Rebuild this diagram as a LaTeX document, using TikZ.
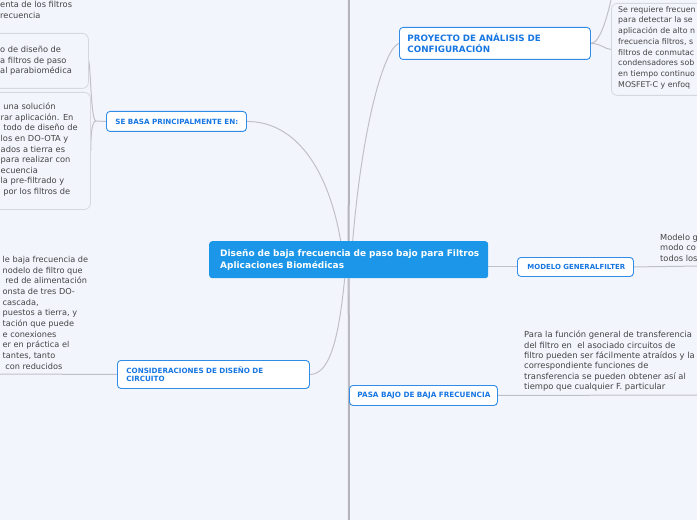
\documentclass[tikz,border=0pt]{standalone}
\usepackage{fontspec}
\setmainfont{DejaVu Sans}
\usetikzlibrary{backgrounds}
\definecolor{bg}{RGB}{243,245,253}
\definecolor{tblue}{RGB}{22,118,226}
\definecolor{bblue}{RGB}{48,140,230}
\definecolor{cfill}{RGB}{28,150,232}
\definecolor{lgray}{RGB}{192,192,200}
\definecolor{trunkgray}{RGB}{180,180,186}
\definecolor{boxgray}{RGB}{214,216,224}
\definecolor{txt}{RGB}{68,68,68}
\begin{document}
\begin{tikzpicture}[x=1bp,y=-1bp,
 topic/.style={draw=bblue, fill=white, line width=0.9bp, rounded corners=3.5bp, text=tblue, font=\fontsize{7.2}{8.3}\selectfont\bfseries, align=left, anchor=north west, inner ysep=0pt},
 central/.style={fill=cfill, rounded corners=3bp, text=white, font=\fontsize{9}{11.6}\selectfont\bfseries, align=left, anchor=north west, inner ysep=0pt},
 body/.style={text=txt, font=\fontsize{8.3}{10.6}\selectfont, align=left, anchor=north west, inner sep=0pt},
 tbox/.style={draw=boxgray, line width=0.8bp, rounded corners=6bp, anchor=north west, inner sep=0pt},
 conn/.style={draw=lgray, line width=1bp},
 trunk/.style={draw=trunkgray, line width=2bp}
]
\useasboundingbox (0,0) rectangle (697,520);
\clip (0,0) rectangle (697,520);

% text boxes
\node[tbox, minimum width=108bp, minimum height=55bp] (box1) at (-20,33) {};
\node[tbox, minimum width=110bp, minimum height=117bp] (box2) at (-20,92) {};
\node[tbox, minimum width=100bp, minimum height=92bp] (rbox) at (611,3) {};

% topics
\node[central, minimum width=279bp, minimum height=37bp, inner xsep=11bp, text width=257bp] (center) at (209,241)
 {\mbox{Diseño de baja frecuencia de paso bajo para Filtros}\\\mbox{Aplicaciones Biomédicas}};
\node[topic, minimum width=140bp, minimum height=20bp, inner xsep=9bp, text width=122bp] (sebasa) at (106,111)
 {\mbox{SE BASA PRINCIPALMENTE EN:}};
\node[topic, minimum width=191bp, minimum height=32bp, inner xsep=8bp, text width=175bp, font=\fontsize{8.8}{11}\selectfont\bfseries] (proy) at (399,27)
 {\mbox{PROYECTO DE ANÁLISIS DE}\\\mbox{CONFIGURACIÓN}};
\node[topic, minimum width=116bp, minimum height=19bp, inner xsep=10bp, text width=96bp, font=\fontsize{7}{8.3}\selectfont\bfseries] (modelo) at (517,257)
 {\mbox{MODELO GENERALFILTER}};
\node[topic, minimum width=192bp, minimum height=28bp, inner xsep=9bp, text width=174bp] (cons) at (117,360)
 {\mbox{CONSIDERACIONES DE DISEÑO DE}\\\mbox{CIRCUITO}};
\node[topic, minimum width=148bp, minimum height=20bp, inner xsep=8bp, text width=132bp, font=\fontsize{7.3}{8.3}\selectfont\bfseries] (pasa) at (349,385)
 {\mbox{PASA BAJO DE BAJA FRECUENCIA}};

% body texts
\node[body] (t0) at (0,1) {enta de los filtros\\recuencia};
\node[body] (t1) at (0,46) {o de diseño de\\a filtros de paso\\al parabiomédica};
\node[body] (t2) at (0.5,103) {\ una solución\\rar aplicación. En\\\ todo de diseño de\\los en DO-OTA y\\ados a tierra es\\para realizar con\\ecuencia\\la pre-filtrado y\\\ por los filtros de};
\node[body, font=\fontsize{8.2}{10.7}\selectfont] (t3) at (2.5,256) {le baja frecuencia de\\nodelo de filtro que\\\ red de alimentación\\onsta de tres DO-\\cascada,\\puestos a tierra, y\\tación que puede\\e conexiones\\er en práctica el\\tantes, tanto\\\ con reducidos};
\node[body, font=\fontsize{7.9}{10.8}\selectfont] (t4) at (618,6) {Se requiere frecuen\\para detectar la se\\aplicación de alto n\\frecuencia filtros, s\\filtros de conmutac\\condensadores sob\\en tiempo continuo\\MOSFET-C y enfoq};
\node[body, font=\fontsize{8.3}{10.4}\selectfont] (t5) at (660,234) {Modelo g\\modo co\\todos los};
\node[body, font=\fontsize{8.4}{10.4}\selectfont] (t6) at (524,331) {Para la función general de transferencia\\del filtro en\ \ el asociado circuitos de\\filtro pueden ser fácilmente atraídos y la\\correspondiente funciones de\\transferencia se pueden obtener así al\\tiempo que cualquier F. particular};

% free ends
\coordinate (topend) at (349,-5);
\coordinate (botend) at (349,525);
\coordinate (sbfork) at (96,121);
\coordinate (consend) at (-5,374);
\coordinate (modend) at (702,266);
\coordinate (pasaend) at (702,395);
\coordinate (upend) at (612,-5);

\begin{scope}[on background layer]
\fill[bg] (-10,-10) rectangle (710,530);
\draw[trunk] (center.north) -- (topend);
\draw[trunk] (center.south) -- (botend);
\draw[conn] ([xshift=-8bp]center.north) .. controls +(-12,-70) and +(50,0) .. (sebasa.east);
\draw[conn] ([xshift=4bp]center.north) .. controls +(10,-120) and +(-14,4) .. (proy.west);
\draw[conn] ([xshift=-4bp]center.south) .. controls +(-6,60) and +(20,0) .. (cons.east);
\draw[conn] (modelo.west -| center.east) -- (modelo.west);
\draw[conn] (center.south) -- (pasa.west);
\draw[conn] (sebasa.west) -- (sbfork) .. controls +(-5,0) and +(2,10) .. (box1.east);
\draw[conn] (sbfork) .. controls +(-5,0) and +(0,-10) .. (box2.east);
\draw[conn] (cons.west) -- (consend);
\draw[conn] (modelo.east) -- (modend);
\draw[conn] (pasa.east) -- (pasaend);
\draw[conn] (proy.east) .. controls +(10,0) and +(-6,0) .. (rbox.west);
\draw[conn] (proy.east) .. controls +(10,0) and +(-3,15) .. (upend);
\end{scope}
\end{tikzpicture}
\end{document}
